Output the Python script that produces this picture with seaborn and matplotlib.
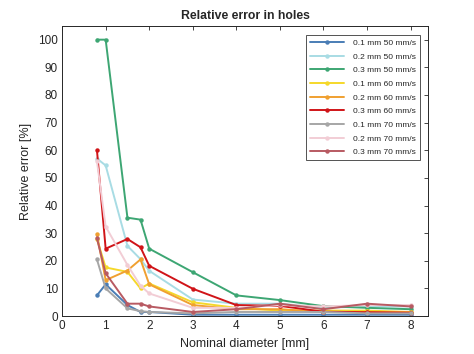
import numpy as np
import pandas as pd
import matplotlib
matplotlib.use("Agg")
import matplotlib.pyplot as plt
import seaborn as sns

diameters = [0.8, 1.0, 1.5, 1.8, 2.0, 3.0, 4.0, 5.0, 6.0, 7.0, 8.0]
labels = ["0.1 mm 50 mm/s", "0.2 mm 50 mm/s", "0.3 mm 50 mm/s",
          "0.1 mm 60 mm/s", "0.2 mm 60 mm/s", "0.3 mm 60 mm/s",
          "0.1 mm 70 mm/s", "0.2 mm 70 mm/s", "0.3 mm 70 mm/s"]
s01_50 = [7.5, 11.5, 4.0, 1.5, 1.5, 0.5, 0.5, 0.5, 0.5, 0.5, 0.5]
s02_50 = [57, 54.5, 25.4, 20.6, 16.4, 6.0, 4.5, 4.5, 3.0, 3.5, 3.5]
s03_50 = [100, 100, 35.6, 34.9, 24.4, 15.9, 7.5, 5.8, 3.6, 3.0, 2.5]
s01_60 = [27.9, 17.6, 16.0, 10.0, 11.8, 5.0, 3.0, 2.0, 2.0, 2.0, 1.5]
s02_60 = [29.6, 13.0, 16.5, 20.5, 11.5, 4.0, 2.5, 2.5, 1.5, 1.5, 1.5]
s03_60 = [60, 24.4, 27.9, 24.9, 18.2, 9.9, 4.0, 3.7, 1.6, 1.4, 1.2]
s01_70 = [20.5, 10.0, 2.8, 1.8, 1.5, 1.0, 1.5, 1.5, 1.5, 1.0, 1.0]
s02_70 = [56, 32.4, 18.5, 11.0, 8.2, 3.0, 3.0, 4.0, 3.5, 4.0, 4.0]
s03_70 = [28.1, 15.5, 4.5, 4.5, 3.5, 1.5, 2.5, 4.5, 2.5, 4.5, 3.5]
series = [s01_50, s02_50, s03_50, s01_60, s02_60, s03_60, s01_70, s02_70, s03_70]
colors = ["#4A7DB5", "#A8DCE4", "#3DA673", "#F5D82A", "#F0A030",
          "#D01418", "#A6A6A6", "#F2CDD5", "#B85A62"]

rows = []
for lab, vals in zip(labels, series):
    for d, v in zip(diameters, vals):
        rows.append({"Nominal diameter [mm]": d, "Relative error [%]": v, "Series": lab})
df = pd.DataFrame(rows)

sns.set_style("white")
plt.rcParams['font.family'] = ['Liberation Sans', 'DejaVu Sans']

fig = plt.figure(figsize=(4.74, 3.54), dpi=100)
ax = fig.add_axes([0.131, 0.107, 0.772, 0.820])
sns.lineplot(data=df, x="Nominal diameter [mm]", y="Relative error [%]", hue="Series",
             hue_order=labels, palette=colors, marker="o", markersize=3.2,
             markeredgewidth=0, linewidth=1.4, ax=ax, sort=False)

ax.set_xlim(0, 8.4)
ax.set_ylim(0, 105)
ax.set_xticks(range(0, 9))
ax.set_yticks(range(0, 101, 10))
ax.tick_params(axis="both", which="both", direction="in", length=3, width=0.6,
               top=True, right=True, labelsize=8.5, colors="#262626", pad=3)
for sp in ax.spines.values():
    sp.set_color("#262626")
    sp.set_linewidth(0.7)
ax.set_xlabel("Nominal diameter [mm]", fontsize=9, color="#262626")
ax.set_ylabel("Relative error [%]", fontsize=9, color="#262626")
ax.set_title("Relative error in holes", fontsize=8.8, fontweight="bold", pad=5)

leg = ax.legend(loc="upper right", fontsize=6, frameon=True, fancybox=False,
                edgecolor="#262626", handlelength=4.1, handletextpad=1.0,
                borderpad=0.5, labelspacing=0.7, borderaxespad=0,
                bbox_to_anchor=(0.978, 0.969))
leg.get_frame().set_linewidth(0.7)

fig.savefig("out.png", dpi=100)
